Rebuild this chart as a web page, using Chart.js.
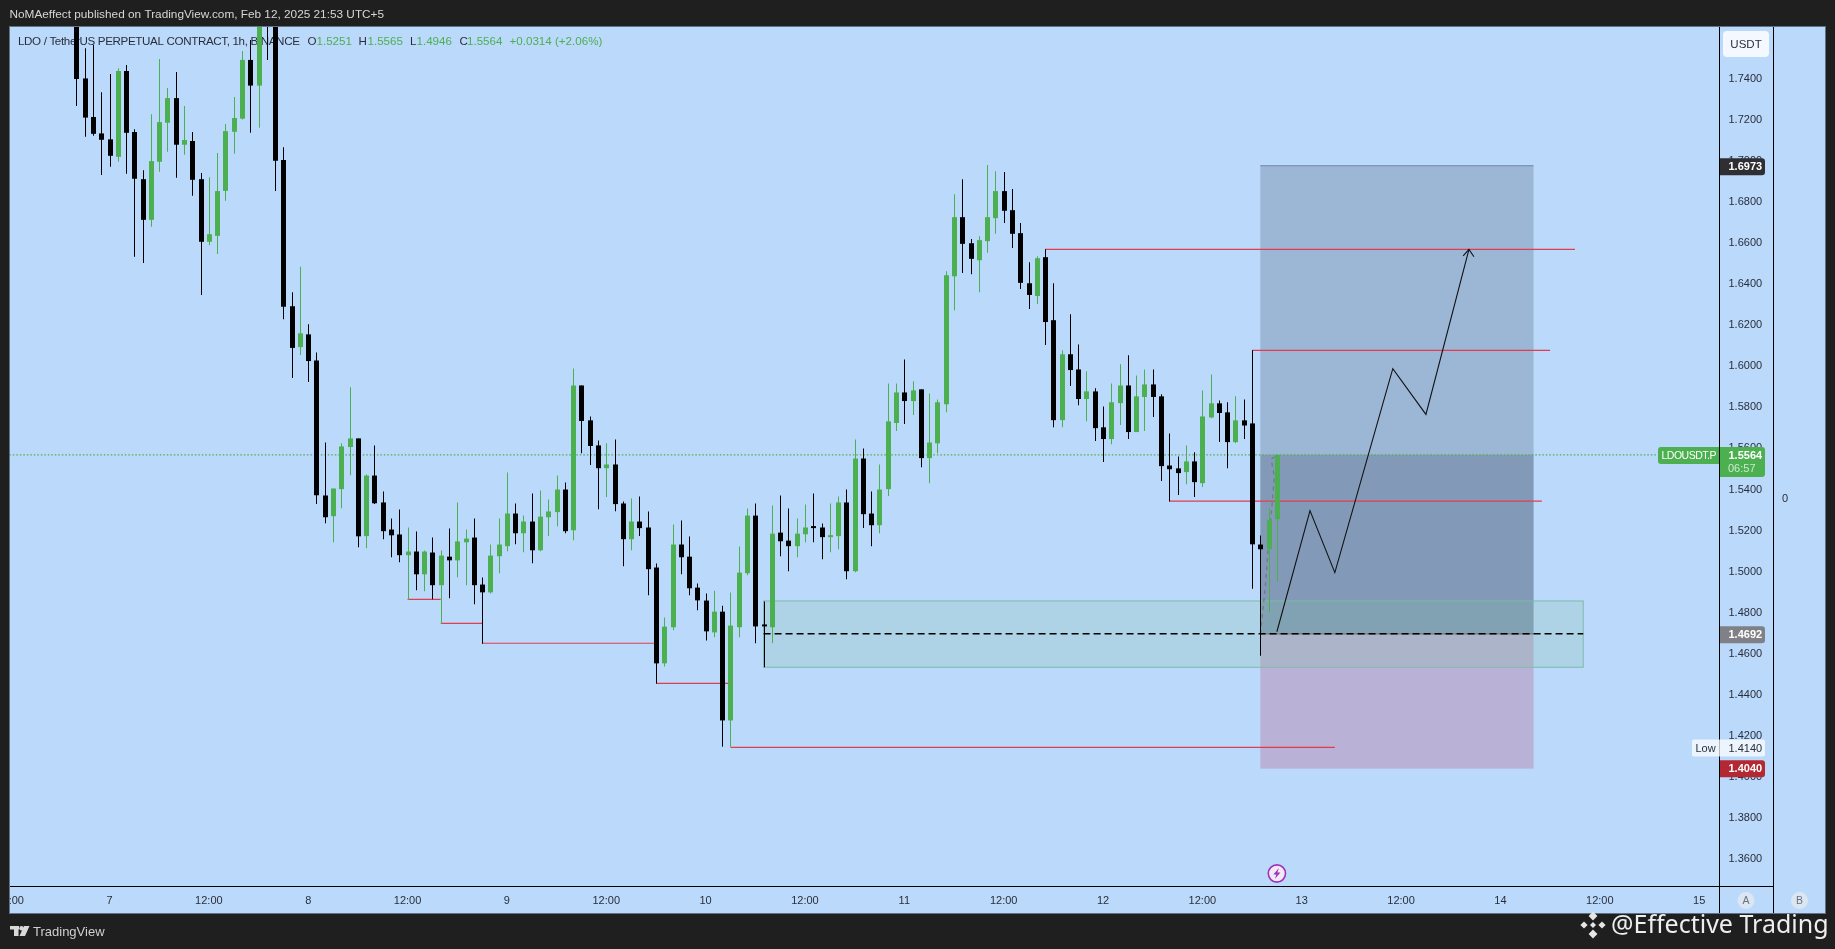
<!DOCTYPE html>
<html>
<head>
<meta charset="utf-8">
<title>LDOUSDT.P 1h</title>
<style>
  html, body { margin: 0; padding: 0; background: #1f1f1f; }
  canvas { display: block; }
</style>
<script src="https://cdn.jsdelivr.net/npm/chart.js@4/dist/chart.umd.min.js"></script>
</head>
<body>
<canvas id="myChart" width="1835" height="949"></canvas>
<script>
// hourly candles, first one is 4 hours before Feb 7 00:00
const firstHour = -4;
const opens = [
  1.7800, 1.7398, 1.7210, 1.7130, 1.7101, 1.7016, 1.7434, 1.7137, 1.6907, 1.6709, 1.6992, 1.7182,
  1.7302, 1.7075, 1.7093, 1.6907, 1.6602, 1.6631, 1.6850, 1.7138, 1.7202, 1.7488, 1.7363, 1.7900,
  1.7700, 1.7000, 1.6288, 1.6089, 1.6151, 1.6024, 1.5366, 1.5265, 1.5397, 1.5602, 1.5644, 1.5168,
  1.5463, 1.5332, 1.5200, 1.5176, 1.5075, 1.5093, 1.4982, 1.5088, 1.4929, 1.5068, 1.5050, 1.5138,
  1.5161, 1.4932, 1.4894, 1.5070, 1.5119, 1.5278, 1.5182, 1.5239, 1.5099, 1.5260, 1.5285, 1.5395,
  1.5197, 1.5902, 1.5732, 1.5610, 1.5499, 1.5517, 1.5327, 1.5153, 1.5239, 1.5210, 1.5015, 1.4548,
  1.4724, 1.5127, 1.5068, 1.4917, 1.4854, 1.4699, 1.4800, 1.4270, 1.4724, 1.4987, 1.5268, 1.4730,
  1.4724, 1.5185, 1.5146, 1.5119, 1.5177, 1.5210, 1.5210, 1.5163, 1.5168, 1.5332, 1.4997, 1.5546,
  1.5278, 1.5221, 1.5397, 1.5719, 1.5868, 1.5826, 1.5883, 1.5548, 1.5620, 1.5810, 1.6434, 1.6722,
  1.6595, 1.6512, 1.6605, 1.6717, 1.6849, 1.6756, 1.6644, 1.6400, 1.6338, 1.6527, 1.6220, 1.5733,
  1.6054, 1.5980, 1.5836, 1.5873, 1.5698, 1.5641, 1.5816, 1.5902, 1.5675, 1.5846, 1.5907, 1.5849,
  1.5512, 1.5498, 1.5480, 1.5532, 1.5426, 1.5746, 1.5815, 1.5771, 1.5626, 1.5732, 1.5717, 1.5127,
  1.5104, 1.5251
];
const highs = [
  1.7900, 1.7545, 1.7561, 1.7330, 1.7420, 1.7447, 1.7463, 1.7150, 1.6951, 1.7224, 1.7493, 1.7351,
  1.7429, 1.7263, 1.7137, 1.6937, 1.6917, 1.7034, 1.7176, 1.7307, 1.7532, 1.7585, 1.7800, 1.8000,
  1.7800, 1.7063, 1.6356, 1.6480, 1.6200, 1.6063, 1.5624, 1.5400, 1.5620, 1.5893, 1.5644, 1.5468,
  1.5610, 1.5385, 1.5254, 1.5298, 1.5210, 1.5190, 1.5098, 1.5161, 1.5098, 1.5205, 1.5332, 1.5200,
  1.5254, 1.4966, 1.5127, 1.5254, 1.5478, 1.5327, 1.5268, 1.5376, 1.5390, 1.5346, 1.5463, 1.5429,
  1.5985, 1.5902, 1.5751, 1.5634, 1.5620, 1.5639, 1.5337, 1.5351, 1.5361, 1.5288, 1.5034, 1.4771,
  1.5224, 1.5244, 1.5166, 1.4937, 1.4888, 1.4902, 1.4829, 1.4893, 1.5117, 1.5302, 1.5327, 1.4849,
  1.5317, 1.5366, 1.5302, 1.5254, 1.5322, 1.5376, 1.5229, 1.5327, 1.5361, 1.5395, 1.5639, 1.5595,
  1.5385, 1.5517, 1.5912, 1.5912, 1.6029, 1.5922, 1.5883, 1.5863, 1.5834, 1.6459, 1.6834, 1.6907,
  1.6615, 1.6629, 1.6976, 1.6946, 1.6942, 1.6859, 1.6693, 1.6502, 1.6532, 1.6566, 1.6400, 1.6073,
  1.6249, 1.6102, 1.5971, 1.5888, 1.5800, 1.5912, 1.6005, 1.6049, 1.5951, 1.5980, 1.5980, 1.5859,
  1.5668, 1.5556, 1.5610, 1.5576, 1.5878, 1.5956, 1.5829, 1.5820, 1.5849, 1.5834, 1.6073, 1.5171,
  1.5302, 1.5565
];
const lows = [
  1.7263, 1.7114, 1.7119, 1.6928, 1.6968, 1.6992, 1.6933, 1.6529, 1.6499, 1.6675, 1.6943, 1.7041,
  1.6914, 1.7026, 1.6826, 1.6343, 1.6585, 1.6543, 1.6802, 1.7031, 1.7198, 1.7133, 1.7158, 1.7488,
  1.6850, 1.6224, 1.5938, 1.6050, 1.5919, 1.5324, 1.5231, 1.5138, 1.5304, 1.5465, 1.5114, 1.5109,
  1.5324, 1.5153, 1.5065, 1.5041, 1.4857, 1.4904, 1.4899, 1.4860, 1.4740, 1.4865, 1.4968, 1.4929,
  1.4836, 1.4644, 1.4889, 1.4987, 1.5094, 1.5128, 1.5089, 1.5036, 1.5094, 1.5168, 1.5216, 1.5182,
  1.5148, 1.5572, 1.5514, 1.5299, 1.5358, 1.5289, 1.5021, 1.5099, 1.5168, 1.4880, 1.4450, 1.4533,
  1.4709, 1.4982, 1.4880, 1.4807, 1.4660, 1.4675, 1.4142, 1.4140, 1.4675, 1.4977, 1.4646, 1.4529,
  1.4646, 1.5070, 1.4997, 1.5065, 1.5138, 1.5138, 1.5055, 1.5089, 1.5104, 1.4958, 1.4992, 1.5207,
  1.5119, 1.5182, 1.5363, 1.5680, 1.5714, 1.5758, 1.5504, 1.5426, 1.5572, 1.5771, 1.6268, 1.6450,
  1.6444, 1.6356, 1.6548, 1.6641, 1.6694, 1.6572, 1.6372, 1.6275, 1.6299, 1.6099, 1.5699, 1.5699,
  1.5899, 1.5806, 1.5728, 1.5631, 1.5529, 1.5616, 1.5709, 1.5641, 1.5675, 1.5680, 1.5748, 1.5436,
  1.5337, 1.5368, 1.5421, 1.5358, 1.5407, 1.5742, 1.5626, 1.5499, 1.5621, 1.5641, 1.4912, 1.4585,
  1.4797, 1.4946
];
const closes = [
  1.7395, 1.7207, 1.7128, 1.7099, 1.7021, 1.7434, 1.7133, 1.6909, 1.6709, 1.6995, 1.7185, 1.7302,
  1.7075, 1.7098, 1.6904, 1.6602, 1.6639, 1.6849, 1.7141, 1.7205, 1.7488, 1.7363, 1.7700, 1.7700,
  1.6997, 1.6285, 1.6085, 1.6156, 1.6021, 1.5367, 1.5260, 1.5400, 1.5605, 1.5644, 1.5167, 1.5463,
  1.5328, 1.5192, 1.5172, 1.5075, 1.5093, 1.4982, 1.5093, 1.4929, 1.5073, 1.5050, 1.5142, 1.5156,
  1.4929, 1.4894, 1.5073, 1.5127, 1.5278, 1.5182, 1.5239, 1.5099, 1.5263, 1.5288, 1.5395, 1.5192,
  1.5902, 1.5729, 1.5607, 1.5499, 1.5517, 1.5324, 1.5153, 1.5239, 1.5207, 1.5007, 1.4548, 1.4727,
  1.5127, 1.5065, 1.4914, 1.4855, 1.4704, 1.4800, 1.4270, 1.4732, 1.4990, 1.5268, 1.4728, 1.4728,
  1.5180, 1.5143, 1.5119, 1.5180, 1.5210, 1.5207, 1.5163, 1.5171, 1.5332, 1.4997, 1.5546, 1.5275,
  1.5221, 1.5395, 1.5727, 1.5868, 1.5826, 1.5878, 1.5548, 1.5624, 1.5820, 1.6439, 1.6722, 1.6592,
  1.6519, 1.6610, 1.6722, 1.6849, 1.6753, 1.6641, 1.6402, 1.6343, 1.6522, 1.6211, 1.5733, 1.6054,
  1.5977, 1.5836, 1.5873, 1.5694, 1.5641, 1.5820, 1.5902, 1.5675, 1.5849, 1.5907, 1.5846, 1.5509,
  1.5494, 1.5475, 1.5532, 1.5431, 1.5751, 1.5815, 1.5768, 1.5626, 1.5732, 1.5707, 1.5128, 1.5104,
  1.5247, 1.5564
];

// time axis, one label every 12 hours starting at hour -12
const timeLabels = ['12:00', '7', '12:00', '8', '12:00', '9', '12:00', '10', '12:00', '11', '12:00',
  '12', '12:00', '13', '12:00', '14', '12:00', '15'];

// drawings, x in hours and y in price
const lastPrice = 1.5564;
const entryPrice = 1.4692;
const targetPrice = 1.6975;
const stopPrice = 1.4035;
const positionHours = [139, 172];
const zoneHours = [79, 178];
const zonePrices = [1.4852, 1.4529];
const redLines = [
  [36, 40, 1.4860], [40, 45, 1.4743], [45, 66, 1.4646], [66, 75, 1.4451],
  [75, 148, 1.4139], [113, 177, 1.6565], [138, 174, 1.6073], [128, 173, 1.5338]
];
const pathHours = [141, 145, 148, 155, 159, 164.2];
const pathPrices = [1.4702, 1.5292, 1.4990, 1.5984, 1.5761, 1.6565];
const arrowHours = [163.5, 164.2, 164.8];
const arrowPrices = [1.6533, 1.6565, 1.6529];
const ghostHours = [139, 139.6, 140, 140.5, 140.7, 140.3, 140.75];
const ghostPrices = [1.4692, 1.4920, 1.5133, 1.5360, 1.5457, 1.5543, 1.5555];

const tagValues = [1.6973, 1.5564, 1.4692, 1.4140, 1.4040];
const tagFills = ['#2f2f33', '#4caf50', '#808087', 'rgba(255,255,255,0.72)', '#b22833'];

const GREEN = '#4caf50';
const BLACK = '#000000';
const RED = '#e23c4e';
const PANE = '#bbd9fb';
const DARK = '#1f1f1f';
const FONT = '"Liberation Sans", sans-serif';

const candleColors = closes.map((c, i) => (c >= opens[i] ? GREEN : BLACK));

function lineSet(points, color, width, dash, order) {
  return {
    type: 'line',
    data: points,
    borderColor: color,
    borderWidth: width,
    borderDash: dash,
    pointRadius: 0,
    tension: 0,
    fill: false,
    order: order
  };
}

const datasets = [
  {
    data: closes.map((c, i) => ({ x: firstHour + i, y: [opens[i], c] })),
    backgroundColor: candleColors,
    barThickness: 5,
    minBarLength: 2,
    grouped: false,
    order: 1
  },
  {
    data: highs.map((h, i) => ({ x: firstHour + i, y: [lows[i], h] })),
    backgroundColor: candleColors,
    barThickness: 1,
    grouped: false,
    order: 2
  },
  lineSet([{ x: -12.1, y: lastPrice }, { x: 187, y: lastPrice }], GREEN, 1.4, [1.5, 2], 5),
  lineSet([{ x: zoneHours[0], y: entryPrice }, { x: zoneHours[1], y: entryPrice }], BLACK, 1.5, [7, 4], 4),
  lineSet(pathHours.map((h, i) => ({ x: h, y: pathPrices[i] })), '#111111', 1.1, [], 3),
  lineSet(arrowHours.map((h, i) => ({ x: h, y: arrowPrices[i] })), '#111111', 1.1, [], 3),
  lineSet(ghostHours.map((h, i) => ({ x: h, y: ghostPrices[i] })), 'rgba(110,110,120,0.75)', 1.3, [4, 4], 3)
];
redLines.forEach(r => {
  datasets.push(lineSet([{ x: r[0], y: r[2] }, { x: r[1], y: r[2] }], RED, 1.2, [], 6));
});

function text(ctx, str, x, y, color, font, align) {
  ctx.fillStyle = color;
  ctx.font = font;
  ctx.textAlign = align || 'left';
  ctx.textBaseline = 'middle';
  ctx.fillText(str, x, y);
}

function roundBox(ctx, x, y, w, h, r, fill) {
  ctx.fillStyle = fill;
  ctx.beginPath();
  ctx.roundRect(x, y, w, h, r);
  ctx.fill();
}

function fillBand(ctx, chart, hours, top, bottom, fill) {
  const xs = chart.scales.x;
  const ys = chart.scales.y;
  const x1 = xs.getPixelForValue(hours[0]);
  const x2 = xs.getPixelForValue(hours[1]);
  const y1 = ys.getPixelForValue(top);
  const y2 = ys.getPixelForValue(bottom);
  ctx.fillStyle = fill;
  ctx.fillRect(x1, y1, x2 - x1, y2 - y1);
}

// snap the bars to whole pixels so the wicks stay sharp
const snapPlugin = {
  id: 'snap',
  afterDatasetsUpdate(chart) {
    [0, 1].forEach(i => {
      chart.getDatasetMeta(i).data.forEach(el => { el.x = Math.round(el.x) + 0.5; });
    });
  }
};

const panePlugin = {
  id: 'pane',
  beforeDraw(chart) {
    const ctx = chart.ctx;
    ctx.save();
    ctx.fillStyle = DARK;
    ctx.fillRect(0, 0, chart.width, chart.height);
    ctx.fillStyle = '#5f7387';
    ctx.fillRect(9, 26, 1817, 888);
    ctx.fillStyle = PANE;
    ctx.fillRect(10, 27, 1815, 886);
    ctx.restore();
  },
  beforeDatasetsDraw(chart) {
    const ctx = chart.ctx;
    const xs = chart.scales.x;
    const ys = chart.scales.y;
    ctx.save();

    // legend sits under the candles
    const legendFont = '11.6px ' + FONT;
    ctx.letterSpacing = '-0.35px';
    text(ctx, 'LDO / TetherUS PERPETUAL CONTRACT, 1h, BINANCE', 18, 41.5, '#2a2e39', legendFont);
    ctx.letterSpacing = '0px';
    text(ctx, 'O', 307.5, 41.5, '#2a2e39', legendFont);
    text(ctx, '1.5251', 316.5, 41.5, GREEN, legendFont);
    text(ctx, 'H', 358.5, 41.5, '#2a2e39', legendFont);
    text(ctx, '1.5565', 367.5, 41.5, GREEN, legendFont);
    text(ctx, 'L', 410, 41.5, '#2a2e39', legendFont);
    text(ctx, '1.4946', 416.5, 41.5, GREEN, legendFont);
    text(ctx, 'C', 459.5, 41.5, '#2a2e39', legendFont);
    text(ctx, '1.5564', 467, 41.5, GREEN, legendFont);
    text(ctx, '+0.0314 (+2.06%)', 509.5, 41.5, GREEN, legendFont);

    // long position tool and the demand zone
    fillBand(ctx, chart, positionHours, targetPrice, entryPrice, 'rgba(87,104,128,0.3)');
    fillBand(ctx, chart, positionHours, lastPrice, entryPrice, 'rgba(32,43,64,0.2)');
    fillBand(ctx, chart, positionHours, entryPrice, stopPrice, 'rgba(179,61,103,0.25)');
    fillBand(ctx, chart, zoneHours, zonePrices[0], zonePrices[1], 'rgba(127,192,161,0.22)');

    const zx1 = xs.getPixelForValue(zoneHours[0]);
    const zx2 = xs.getPixelForValue(zoneHours[1]);
    ctx.strokeStyle = '#7dbaaa';
    ctx.lineWidth = 1;
    ctx.strokeRect(zx1, ys.getPixelForValue(zonePrices[0]), zx2 - zx1,
      ys.getPixelForValue(zonePrices[1]) - ys.getPixelForValue(zonePrices[0]));

    const px1 = xs.getPixelForValue(positionHours[0]);
    const px2 = xs.getPixelForValue(positionHours[1]);
    ctx.fillStyle = 'rgba(110,125,165,0.8)';
    ctx.fillRect(px1, ys.getPixelForValue(targetPrice), px2 - px1, 1);
    ctx.fillStyle = '#75767d';
    ctx.fillRect(px1, ys.getPixelForValue(entryPrice) - 0.5, px2 - px1, 1.2);
    ctx.restore();
  },
  afterDraw(chart) {
    const ctx = chart.ctx;
    const xs = chart.scales.x;
    const ys = chart.scales.y;
    ctx.save();

    // left end of the first time label is cut by the frame
    ctx.fillStyle = DARK;
    ctx.fillRect(0, 887, 9, 26);
    ctx.fillStyle = '#5f7387';
    ctx.fillRect(9, 887, 1, 27);

    // pane separators
    ctx.fillStyle = '#000000';
    ctx.fillRect(1719, 27, 1, 886);
    ctx.fillRect(1773, 27, 1, 886);
    ctx.fillRect(10, 886, 1763, 1);

    text(ctx, 'NoMAeffect published on TradingView.com, Feb 12, 2025 21:53 UTC+5', 9.5, 15, '#d6d6d6', '11.8px ' + FONT);

    roundBox(ctx, 1723, 31, 46, 26, 4, '#f3f9ff');
    text(ctx, 'USDT', 1746, 44.5, '#2a2e39', '11.5px ' + FONT, 'center');

    // price tags on the right axis
    const tagFont = 'bold 11px ' + FONT;
    const tagY = v => ys.getPixelForValue(v) + 1;
    roundBox(ctx, 1720, tagY(tagValues[0]) - 8.5, 45, 17, [0, 3, 3, 0], tagFills[0]);
    text(ctx, tagValues[0].toFixed(4), 1728.5, tagY(tagValues[0]) + 0.5, '#ffffff', tagFont);

    roundBox(ctx, 1658, 447, 61, 17, [3, 0, 0, 3], tagFills[1]);
    roundBox(ctx, 1720, 447, 45, 30, [0, 3, 3, 0], tagFills[1]);
    ctx.letterSpacing = '-0.5px';
    text(ctx, 'LDOUSDT.P', 1661.5, 456, '#ffffff', '10.5px ' + FONT);
    ctx.letterSpacing = '0px';
    text(ctx, tagValues[1].toFixed(4), 1728.5, 456, '#ffffff', tagFont);
    text(ctx, '06:57', 1728, 469, '#cdeacf', '11px ' + FONT);

    roundBox(ctx, 1720, tagY(tagValues[2]) - 8.5, 45, 17, [0, 3, 3, 0], tagFills[2]);
    text(ctx, tagValues[2].toFixed(4), 1728.5, tagY(tagValues[2]) + 0.5, '#ffffff', tagFont);

    roundBox(ctx, 1692, tagY(tagValues[3]) - 8.5, 73, 17, 2, tagFills[3]);
    text(ctx, 'Low', 1695.5, tagY(tagValues[3]) + 0.5, '#2a2e39', '11px ' + FONT);
    text(ctx, tagValues[3].toFixed(4), 1728.5, tagY(tagValues[3]) + 0.5, '#2a2e39', '11px ' + FONT);

    roundBox(ctx, 1720, tagY(tagValues[4]) - 8.5, 45, 17, [0, 3, 3, 0], tagFills[4]);
    text(ctx, tagValues[4].toFixed(4), 1728.5, tagY(tagValues[4]) + 0.5, '#ffffff', tagFont);

    text(ctx, '0', 1782, 499, '#2a2e39', '11px ' + FONT);

    // A / B buttons under the right panes
    ['A', 'B'].forEach((s, i) => {
      const cx = i === 0 ? 1746 : 1799.5;
      ctx.fillStyle = '#dbe6f2';
      ctx.beginPath();
      ctx.arc(cx, 900.5, 8.5, 0, Math.PI * 2);
      ctx.fill();
      text(ctx, s, cx, 901, '#6b7280', '10.5px ' + FONT, 'center');
    });

    // earnings style marker on the last candle
    const mx = xs.getPixelForValue(141);
    const my = 873.5;
    ctx.fillStyle = '#f2e9f8';
    ctx.strokeStyle = '#a033b8';
    ctx.lineWidth = 1.6;
    ctx.beginPath();
    ctx.arc(mx, my, 8.6, 0, Math.PI * 2);
    ctx.fill();
    ctx.stroke();
    ctx.fillStyle = '#a033b8';
    ctx.beginPath();
    ctx.moveTo(mx + 2, my - 5.5);
    ctx.lineTo(mx - 3.5, my + 1);
    ctx.lineTo(mx - 0.5, my + 1);
    ctx.lineTo(mx - 2, my + 5.5);
    ctx.lineTo(mx + 3.5, my - 1);
    ctx.lineTo(mx + 0.5, my - 1);
    ctx.closePath();
    ctx.fill();

    // footer, TradingView mark
    ctx.fillStyle = '#d9d9d9';
    ctx.fillRect(10, 926, 9, 3.5);
    ctx.fillRect(14, 926, 4.5, 10);
    ctx.beginPath();
    ctx.arc(21.5, 928.3, 2.2, 0, Math.PI * 2);
    ctx.fill();
    ctx.beginPath();
    ctx.moveTo(24, 926);
    ctx.lineTo(29.5, 926);
    ctx.lineTo(25, 936);
    ctx.lineTo(19.5, 936);
    ctx.closePath();
    ctx.fill();
    text(ctx, 'TradingView', 33, 932, '#cfcfcf', '13px ' + FONT);

    // footer, exchange mark and channel name
    const bx = 1593;
    const by = 925;
    [[0, -9, 4.4], [-9, 0, 3.6], [9, 0, 3.6], [0, 9, 4.4], [0, 0, 3]].forEach(d => {
      ctx.fillStyle = '#e6e6e6';
      ctx.beginPath();
      ctx.moveTo(bx + d[0], by + d[1] - d[2]);
      ctx.lineTo(bx + d[0] + d[2], by + d[1]);
      ctx.lineTo(bx + d[0], by + d[1] + d[2]);
      ctx.lineTo(bx + d[0] - d[2], by + d[1]);
      ctx.closePath();
      ctx.fill();
    });
    text(ctx, '@Effective Trading', 1611, 926, '#eeeeee', '25px "Noto Sans", sans-serif');
    ctx.restore();
  }
};

function clearPadding(scale) {
  scale.paddingLeft = 0;
  scale.paddingRight = 0;
  scale.paddingTop = 0;
  scale.paddingBottom = 0;
}

new Chart(document.getElementById('myChart').getContext('2d'), {
  type: 'bar',
  data: { datasets: datasets },
  plugins: [snapPlugin, panePlugin],
  options: {
    responsive: false,
    animation: false,
    devicePixelRatio: 1,
    inflateAmount: 0,
    layout: {
      autoPadding: false,
      padding: { left: 10, right: 10, top: 27, bottom: 36 }
    },
    plugins: {
      legend: { display: false },
      tooltip: { enabled: false },
      title: { display: false }
    },
    scales: {
      x: {
        type: 'linear',
        offset: false,
        min: -12.02,
        max: 194.4,
        afterFit: scale => { scale.height = 27; clearPadding(scale); },
        grid: { display: false, drawTicks: false },
        border: { display: false },
        ticks: {
          stepSize: 12,
          includeBounds: false,
          autoSkip: false,
          maxRotation: 0,
          padding: 8,
          color: '#2a2e39',
          font: { family: 'Liberation Sans', size: 11 },
          callback: val => timeLabels[(val + 12) / 12]
        }
      },
      y: {
        type: 'linear',
        position: 'right',
        min: 1.34633,
        max: 1.76485,
        afterFit: scale => { scale.width = 106; clearPadding(scale); },
        grid: { display: false, drawTicks: false },
        border: { display: false },
        ticks: {
          stepSize: 0.02,
          includeBounds: false,
          autoSkip: false,
          padding: 9.5,
          labelOffset: 1,
          color: '#2a2e39',
          font: { family: 'Liberation Sans', size: 11 },
          callback: val => val.toFixed(4)
        }
      }
    }
  }
});
</script>
</body>
</html>
